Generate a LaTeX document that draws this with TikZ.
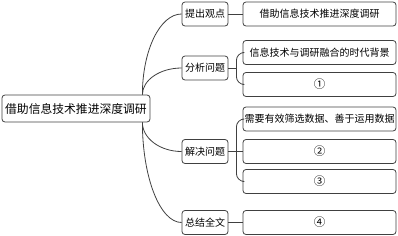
\documentclass[tikz,border=0pt]{standalone}
\usepackage{fontspec}
\newfontfamily\cjk{Noto Sans CJK SC}
\usetikzlibrary{calc}
\begin{document}
\begin{tikzpicture}[x=1bp,y=-1bp,
  box/.style={draw=black!75, line width=0.8bp, rounded corners=3bp, inner sep=0pt, text=black},
  rootbox/.style={box, minimum width=148bp, minimum height=27bp, font=\cjk\fontsize{11.8bp}{13bp}\selectfont},
  branch/.style={box, minimum width=46bp, minimum height=24bp, font=\cjk\fontsize{10bp}{12bp}\selectfont},
  leaf/.style={box, minimum width=153bp, minimum height=24bp, font=\cjk\fontsize{10bp}{12bp}\selectfont},
  numleaf/.style={leaf, font=\cjk\fontsize{11.5bp}{12bp}\selectfont},
  link/.style={draw=black!75, line width=0.8bp}]
\useasboundingbox (0,0) rectangle (398,236);
\node[rootbox] (root) at (76,108.5) {借助信息技术推进深度调研};
\node[branch] (b1) at (205,14) {提出观点};
\node[branch] (b2) at (205,68) {分析问题};
\node[branch] (b3) at (205,151.5) {解决问题};
\node[branch] (b4) at (205,222.5) {总结全文};
\node[leaf] (l1) at (319.5,14) {借助信息技术推进深度调研};
\node[leaf] (l2) at (319.5,52.5) {信息技术与调研融合的时代背景};
\node[numleaf] (l3) at (319.5,84.5) {①};
\node[leaf] (l4) at (319.5,119) {需要有效筛选数据、善于运用数据};
\node[numleaf] (l5) at (319.5,151.5) {②};
\node[numleaf] (l6) at (319.5,181.5) {③};
\node[numleaf] (l7) at (319.5,222.5) {④};
\coordinate (rt) at ($(root.north east)+(-8,0)$);
\coordinate (rb) at ($(root.south east)+(-8,0)$);
\foreach \s/\b in {rt/b1, rt/b2, rb/b3, rb/b4}{
  \draw[link] (\s) .. controls ($(\s)!0.55!(\s |- \b.west)$) and ($(\b.west)!0.55!(\s |- \b.west)$) .. (\b.west);
}
\draw[link] (b1.east) -- (l1.west);
\coordinate (k2) at ($(b2.east)+(8,0)$);
\draw[link] (b2.east) -- (k2);
\draw[link, rounded corners=8bp] (l2.west) -| (k2) |- (l3.west);
\coordinate (k3) at ($(b3.east)+(8,0)$);
\draw[link] (b3.east) -- (l5.west);
\draw[link, rounded corners=8bp] (l4.west) -| (k3) |- (l6.west);
\draw[link] (b4.east) -- (l7.west);
\end{tikzpicture}
\end{document}
